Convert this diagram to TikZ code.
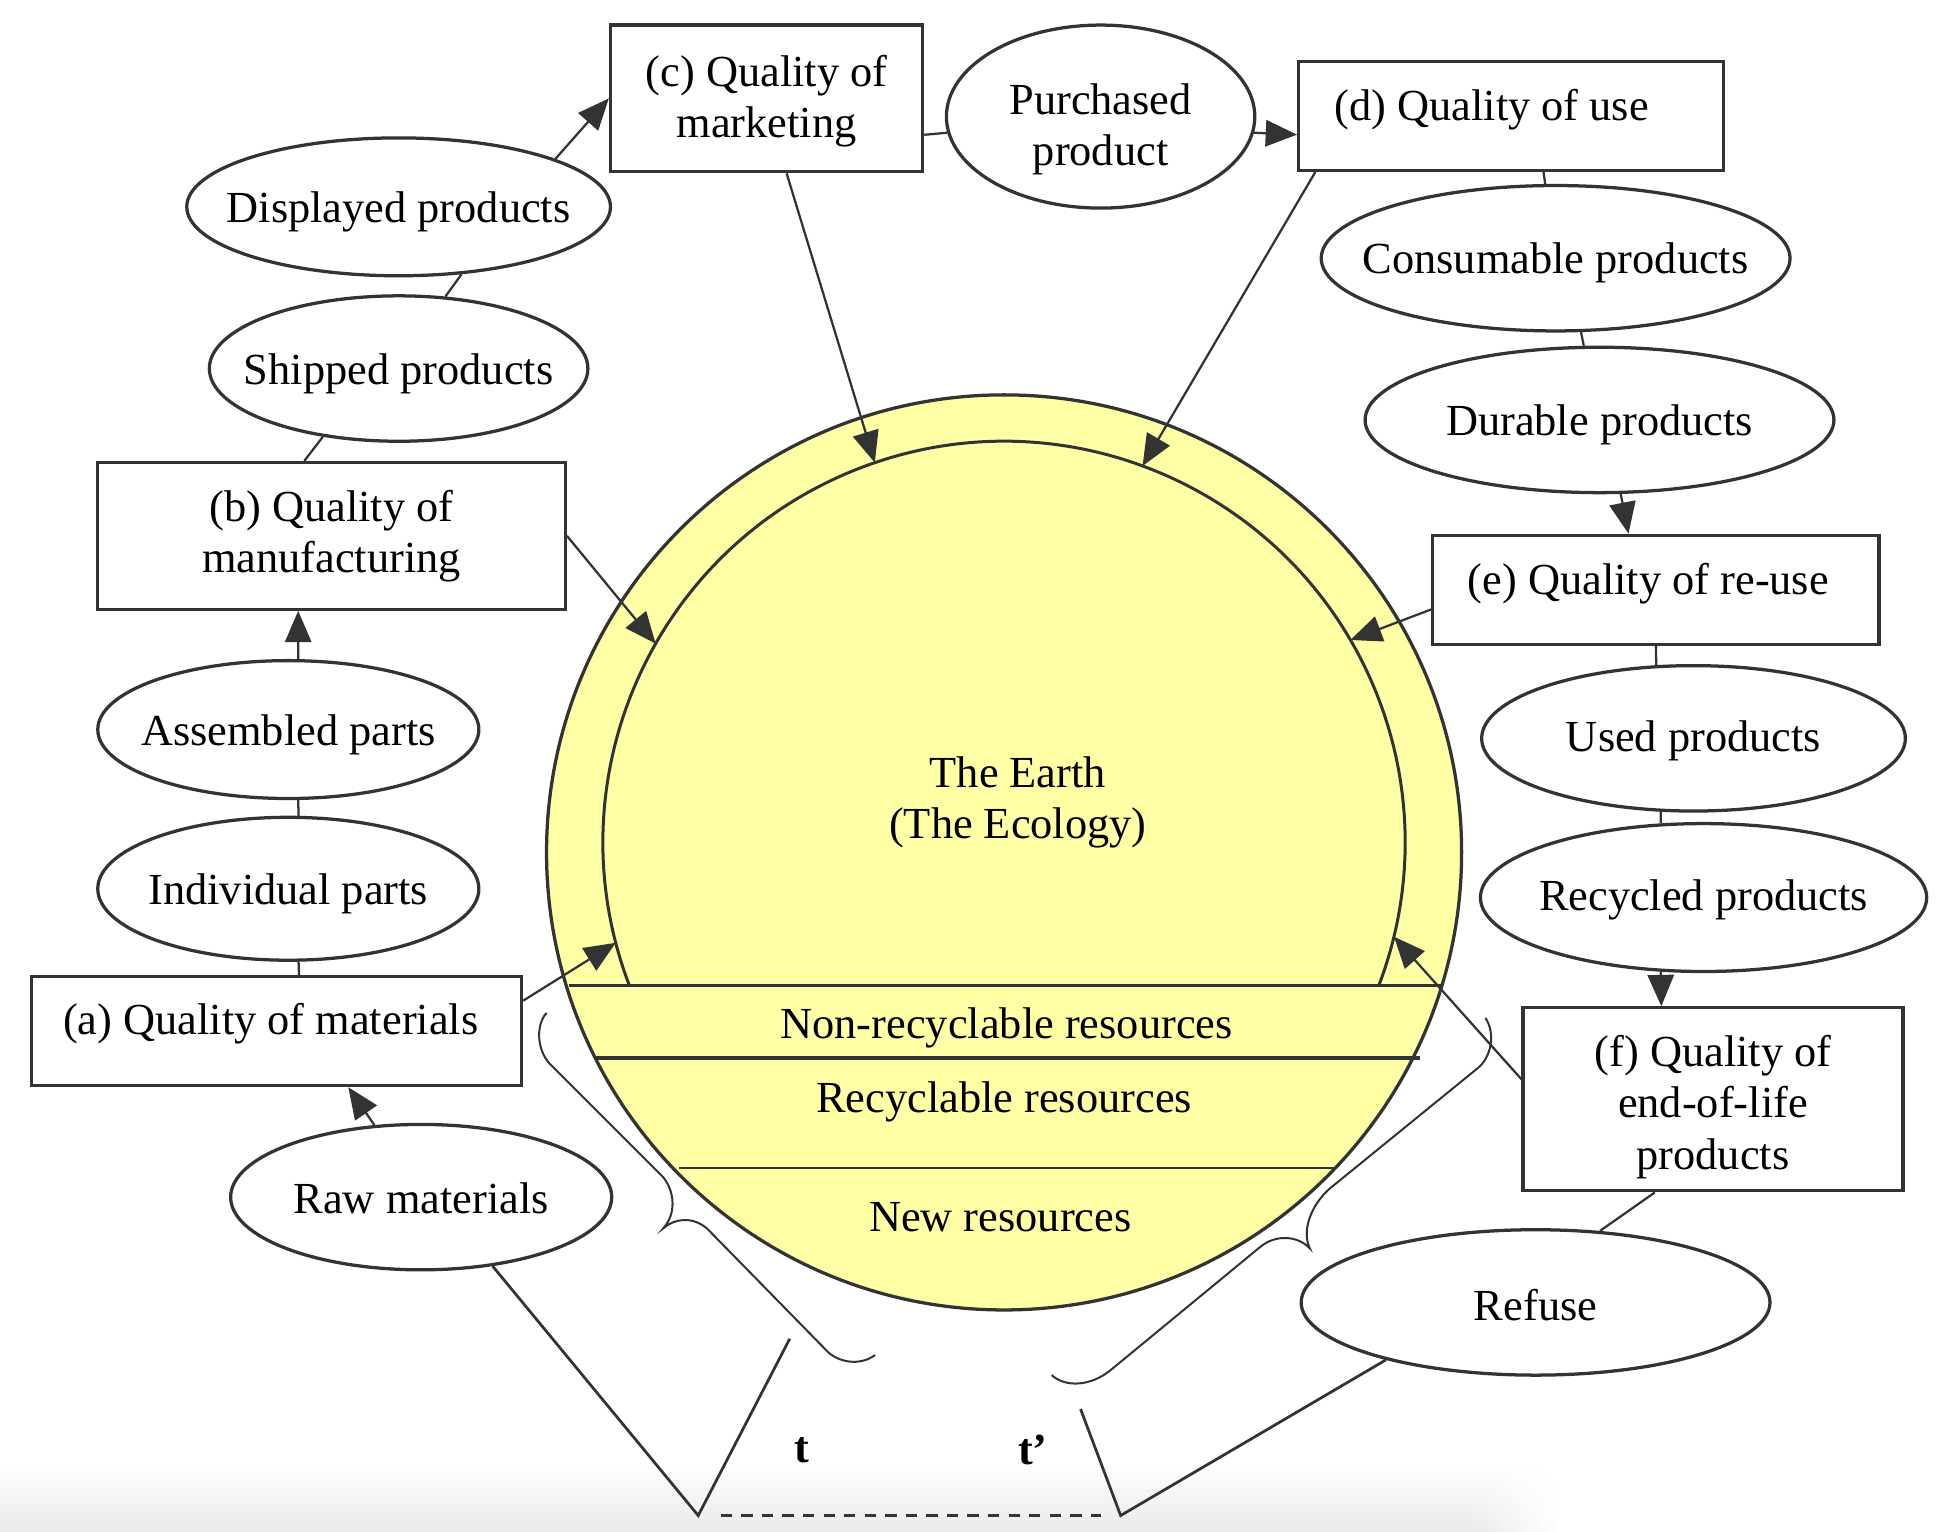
\documentclass[tikz,border=0pt]{standalone}
\usepackage{fontspec}
\setmainfont{Liberation Serif}
\usetikzlibrary{shapes.geometric,arrows.meta,calc}
\definecolor{lc}{HTML}{333333}
\definecolor{earthy}{RGB}{255,255,165}
\begin{document}
\begin{tikzpicture}[x=0.5pt,y=-0.5pt,
  font=\fontsize{17.7}{20.5}\selectfont,
  box/.style={draw=lc, line width=1.3pt, fill=white, rectangle, inner sep=0pt},
  oval/.style={draw=lc, line width=1.3pt, fill=white, ellipse, inner sep=0pt},
  conn/.style={draw=lc, line width=0.9pt},
  arr/.style={conn, -{Triangle[length=12.5pt,width=10.5pt]}},
  bracestroke/.style={draw=lc, line width=0.8pt},
  inline/.style={draw=lc, line width=1.3pt}]
\useasboundingbox (0,0) rectangle (1562,1221.4);
\shade[top color=white, bottom color=black!8] (0,1165) rectangle (1180,1221.4);
\foreach \i in {1,...,10}{
  \pgfmathsetmacro{\pc}{8*(1-\i/11)}
  \shade[top color=white, bottom color=black!\pc] ({1180+(\i-1)*6},1165) rectangle ({1180+\i*6+0.5},1221.4);
}

% the Earth
\node[circle, draw=lc, line width=1.3pt, fill=earthy, minimum size=365pt, inner sep=0pt] (earth) at (801,680) {};
\coordinate (ic) at ($(earth.center)+(0,-8)$);
\draw[inline] (454,786) -- (1150,786);
\draw[inline] (475,844) -- (1133,844);
\draw[draw=lc, line width=0.9pt] (542,932) -- (1064,932);
\draw[draw=lc, line width=1.2pt] ($(ic)+(200.87:160pt)$) arc[start angle=200.87, end angle=-20.87, radius=160pt];
\node[align=center] (earthtxt) at (812,640) {The Earth\\(The Ecology)};
\node (nonrec) at (803,820) {Non-recyclable resources};
\node (rec) at (801,879) {Recyclable resources};
\node (newres) at (798,971) {New resources};

% boxes
\node[box, minimum width=124.5pt, minimum height=58.5pt, label={[align=center,yshift=-1pt]center:{(c) Quality of\\marketing}}] (c) at (611.5,78.5) {};
\node[box, minimum width=169.5pt, minimum height=43.5pt, label={[xshift=-7.75pt,yshift=2.5pt]center:{(d) Quality of use}}] (d) at (1205.5,92.5) {};
\node[box, minimum width=186.5pt, minimum height=58.5pt, label={[align=center,yshift=0pt]center:{(b) Quality of\\manufacturing}}] (b) at (264.5,427.5) {};
\node[box, minimum width=195.5pt, minimum height=43.5pt, label={[xshift=-2.25pt,yshift=3pt]center:{(a) Quality of materials}}] (a) at (220.5,822.5) {};
\node[box, minimum width=178pt, minimum height=43.5pt, label={[xshift=-3pt,yshift=2.5pt]center:{(e) Quality of re-use}}] (e) at (1321,470.5) {};
\node[box, minimum width=151.5pt, minimum height=73pt, label={[align=center,yshift=-3pt]center:{(f) Quality of\\end-of-life\\products}}] (f) at (1366.5,877) {};

% ellipses
\tikzset{olabel/.style={yshift=-2pt}}
\node[oval, minimum width=169pt, minimum height=55pt, label={[olabel]center:{Displayed products}}] (disp) at (318,165) {};
\node[oval, minimum width=151pt, minimum height=58pt, label={[olabel]center:{Shipped products}}] (ship) at (318,294) {};
\node[oval, minimum width=152pt, minimum height=55pt, label={[olabel]center:{Assembled parts}}] (asm) at (230,582) {};
\node[oval, minimum width=152pt, minimum height=57pt, label={[olabel]center:{Individual parts}}] (indiv) at (230,709) {};
\node[oval, minimum width=152pt, minimum height=58pt, label={[yshift=-0.5pt]center:{Raw materials}}] (raw) at (336,955) {};
\node[oval, minimum width=123pt, minimum height=73pt, label={[align=center,yshift=-5pt]center:{Purchased\\product}}] (purch) at (878,93) {};
\node[oval, minimum width=187pt, minimum height=58pt, label={[olabel]center:{Consumable products}}] (cons) at (1241,206) {};
\node[oval, minimum width=187pt, minimum height=58pt, label={[olabel]center:{Durable products}}] (dur) at (1276,335) {};
\node[oval, minimum width=169pt, minimum height=58pt, label={[yshift=-1pt]center:{Used products}}] (used) at (1351,589) {};
\node[oval, minimum width=178pt, minimum height=59pt, label={[yshift=-1pt]center:{Recycled products}}] (recy) at (1359,716) {};
\node[oval, minimum width=187pt, minimum height=58pt, label={[yshift=-1pt]center:{Refuse}}] (refuse) at (1225,1039) {};

% chain connectors
\draw[arr] (disp.17) -- (c.west);
\draw[conn] (disp.-47) -- (ship.57);
\draw[conn] (ship.222.5) -- (b.110);
\draw[arr] (asm.82) -- (b.-114);
\draw[conn] (indiv.82) -- (asm.-82);
\draw[conn] (indiv.-82) -- (a.68);
\draw[arr] (raw.123) -- (a.-38);
\draw[conn] (c.-13) -- (purch.186.5);
\draw[arr] (purch.-6.6) -- (d.185);
\draw[conn] (d.-60.6) -- (cons.98);
\draw[conn] (cons.-71) -- (dur.102);
\draw[arr] (dur.-74.6) -- (e.116);
\draw[conn] (e.south) -- (used.117);
\draw[conn] (used.-114) -- (recy.120);
\draw[arr] (recy.-120) -- (f.119.6);
\draw[conn] (f.-122.5) -- (refuse.48.7);

% arrows into the Earth
\draw[arr] (c.-75) -- ($(ic)+(108.8:160pt)$);
\draw[arr] (d.-164.3) -- ($(ic)+(69.8:160pt)$);
\draw[arr] (b.east) -- ($(ic)+(150.3:160pt)$);
\draw[arr] (e.-175) -- ($(ic)+(30.3:160pt)$);
\draw[arr] (a.7.4) -- ($(ic)+(194.5:160pt)$);
\draw[arr] (f.174.3) -- ($(ic)+(-13.6:160pt)$);

% braces
\draw[bracestroke] (436,808) .. controls (427,818) and (428,840) .. (441,851) -- (529,939) .. controls (538,950) and (540,968) .. (529,980) .. controls (538,972) and (552,970) .. (564,980) -- (659,1077) .. controls (668,1087) and (686,1090) .. (698,1081);
\draw[bracestroke] (1185,812) .. controls (1193,824) and (1190,843) .. (1179,852) -- (1061,948) .. controls (1046,961) and (1038,982) .. (1045,996) .. controls (1036,986) and (1018,984) .. (1005,995) -- (886,1093) .. controls (870,1106) and (850,1107) .. (839,1097);

% bottom time span
\coordinate (vL) at (557,1209);
\coordinate (vLtop) at (630,1068);
\coordinate (vR) at (894,1209);
\coordinate (vRtop) at (862,1124);
\coordinate (dL) at (575,1209);
\coordinate (dR) at (878,1209);
\draw[draw=lc, line width=1.1pt, line join=miter] (raw.-44.5) -- (vL) -- (vLtop);
\draw[draw=lc, line width=1.1pt, line join=miter] (refuse.201.3) -- (vR) -- (vRtop);
\draw[draw=lc, line width=1.5pt, dash pattern=on 4.5pt off 3.7pt] (dL) -- (dR);
\node[font=\fontsize{17.7}{20.5}\selectfont\bfseries] (tl) at (640,1157) {t};
\node[font=\fontsize{17.7}{20.5}\selectfont\bfseries] (tr) at (824,1157) {t’};
\end{tikzpicture}
\end{document}
